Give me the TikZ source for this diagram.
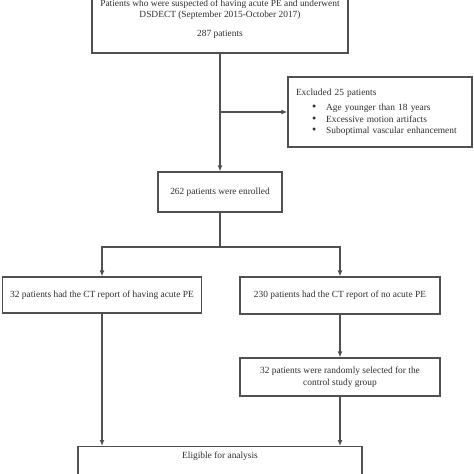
\documentclass[tikz,border=0pt]{standalone}
\usepackage{fontspec}
\setmainfont{Liberation Serif}
\usetikzlibrary{arrows.meta}
\definecolor{linegray}{HTML}{505050}
\definecolor{textgray}{HTML}{2E2E2E}
\newcommand{\bulletitem}{\hspace*{16pt}{\fontsize{12}{11.5}\selectfont\textbullet}\hspace{10pt}}
\begin{document}
\begin{tikzpicture}[x=1pt,y=-1pt,
  font=\fontsize{9.4}{11.5}\selectfont,
  box/.style={draw=linegray,line width=1.2pt,fill=white,text=textgray,align=center,inner sep=0pt},
  link/.style={draw=linegray,line width=1.2pt},
  arr/.style={link,-{Latex[length=6pt,width=5pt]}}]
  \useasboundingbox (0,0) rectangle (474,474);
  \clip (0,0) rectangle (474,474);

  % boxes
  \node[box,minimum width=256pt,minimum height=68pt] (screen) at (220,19)
    {Patients who were suspected of having acute PE and underwent\\DSDECT (September 2015-October 2017)\\[7pt]287 patients};
  \node[box,align=left,text width=168pt,minimum height=70pt,inner xsep=8pt] (excl) at (380,112)
    {Excluded 25 patients\\[4pt]
     \bulletitem Age younger than 18 years\\
     \bulletitem Excessive motion artifacts\\
     \bulletitem Suboptimal vascular enhancement\\[3pt]};
  \node[box,minimum width=124pt,minimum height=40pt] (enrol) at (220,192) {262 patients were enrolled};
  \node[box,minimum width=199pt,minimum height=36pt] (pe) at (102,295) {32 patients had the CT report of having acute PE};
  \node[box,minimum width=200pt,minimum height=37pt] (nope) at (340,295.5) {230 patients had the CT report of no acute PE};
  \node[box,minimum width=200pt,minimum height=38pt] (ctrl) at (340,377) {32 patients were randomly selected for the\\control study group};
  \node[box,minimum width=284pt,anchor=north,inner ysep=5pt,text depth=40pt] (elig) at (220,446) {Eligible for analysis};

  % connectors
  \draw[arr] (screen.south) -- (enrol.north);
  \draw[arr] (screen.south |- excl.west) -- (excl.west);
  \coordinate (split) at (220,247);
  \draw[link] (enrol.south) -- (split);
  \draw[arr] (split) -| (pe.north);
  \draw[arr] (split) -| (nope.north);
  \draw[arr] (nope.south) -- (ctrl.north);
  \draw[arr] (pe.south) -- (pe.south |- elig.north);
  \draw[arr] (ctrl.south) -- (ctrl.south |- elig.north);
\end{tikzpicture}
\end{document}
